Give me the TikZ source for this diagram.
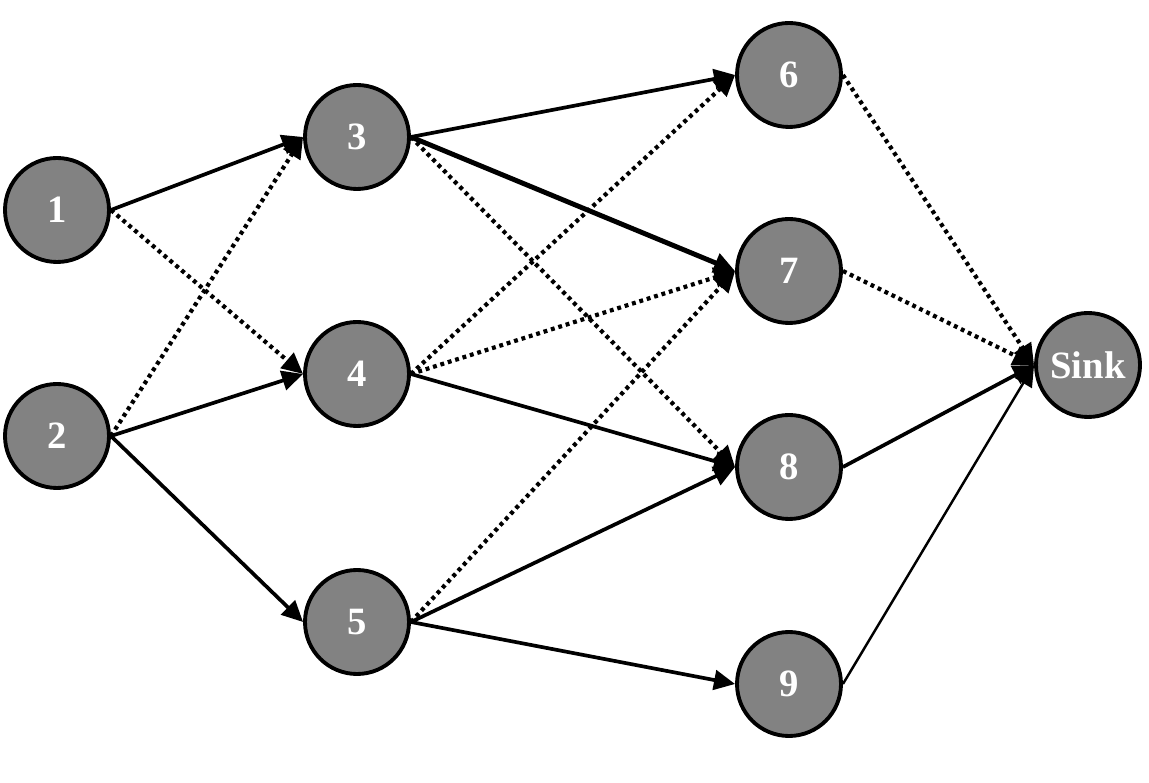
\documentclass[tikz,border=0pt]{standalone}
\usepackage{fontspec}
\setmainfont{Liberation Serif}
\usepackage{tikz}
\usetikzlibrary{
  arrows.meta,
  positioning,
  calc
}
\definecolor{nwFill}{HTML}{828282}
\definecolor{nwLine}{HTML}{000000}
\tikzset{
  nwnode/.style={
    circle, draw=nwLine, fill=nwFill, line width=1.1pt, minimum size=10.4mm,
    inner sep=0pt, font=\fontsize{11}{13}\selectfont\bfseries, text=white
  },
  solidlink/.style={-{Triangle[length=6pt, width=5.6pt]}, line width=1.05pt, nwLine},
  heavylink/.style={solidlink, line width=1.4pt},
  thinlink/.style={solidlink, line width=0.7pt},
  dotlink/.style={-{Triangle[length=6pt, width=5.6pt]}, line width=1.2pt, nwLine,
    dash pattern=on 1.1pt off 1.1pt}
}

\begin{document}
\begin{tikzpicture}[x=1cm, y=1cm]
  \useasboundingbox (0,0) rectangle (11.49,-7.83);
  % layer 1
  \node[nwnode] (n1) at (0.57,-2.10) {1};
  \node[nwnode] (n2) at (0.57,-4.36) {2};
  % layer 2
  \node[nwnode] (n3) at (3.57,-1.37) {3};
  \node[nwnode] (n4) at (3.57,-3.74) {4};
  \node[nwnode] (n5) at (3.57,-6.22) {5};
  % layer 3
  \node[nwnode] (n6) at (7.89,-0.75) {6};
  \node[nwnode] (n7) at (7.89,-2.71) {7};
  \node[nwnode] (n8) at (7.89,-4.67) {8};
  \node[nwnode] (n9) at (7.89,-6.84) {9};
  % sink
  \node[nwnode] (sink) at (10.88,-3.65) {Sink};

  \draw[solidlink] (n1.east) -- (n3.west);
  \draw[dotlink]   (n1.east) -- (n4.west);
  \draw[dotlink]   (n2.east) -- (n3.west);
  \draw[solidlink] (n2.east) -- (n4.west);
  \draw[solidlink] (n2.east) -- (n5.west);

  \draw[solidlink] (n3.east) -- (n6.west);
  \draw[heavylink] (n3.east) -- (n7.west);
  \draw[dotlink]   (n3.east) -- (n8.west);
  \draw[dotlink]   (n4.east) -- (n6.west);
  \draw[dotlink]   (n4.east) -- (n7.west);
  \draw[solidlink] (n4.east) -- (n8.west);
  \draw[dotlink]   (n5.east) -- (n7.west);
  \draw[solidlink] (n5.east) -- (n8.west);
  \draw[solidlink] (n5.east) -- (n9.west);

  \draw[dotlink]   (n6.east) -- (sink.west);
  \draw[dotlink]   (n7.east) -- (sink.west);
  \draw[solidlink] (n8.east) -- (sink.west);
  \draw[thinlink]  (n9.east) -- (sink.west);
\end{tikzpicture}
\end{document}
